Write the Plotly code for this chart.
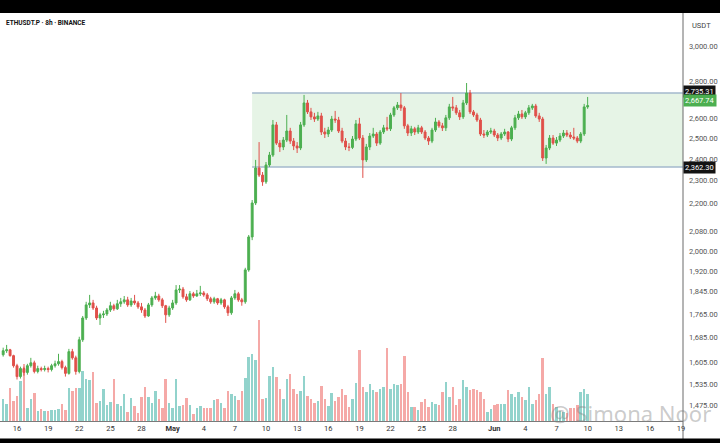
import math
import pandas as pd
import plotly.graph_objects as go

# ---------------- data ----------------
first_candle = "2025-04-14 16:00"   # 8h candles
open0 = 1629

close = [1642, 1645, 1626, 1594, 1560, 1585, 1573, 1594, 1603, 1576,
         1585, 1582, 1585, 1582, 1594, 1600, 1607, 1588, 1570, 1639,
         1619, 1576, 1678, 1752, 1798, 1805, 1787, 1752, 1763, 1766,
         1780, 1795, 1784, 1802, 1809, 1816, 1798, 1812, 1805, 1791,
         1780, 1759, 1798, 1823, 1830, 1816, 1795, 1763, 1787, 1805,
         1852, 1855, 1827, 1816, 1838, 1830, 1838, 1841, 1834, 1820,
         1809, 1820, 1805, 1816, 1791, 1770, 1823, 1838, 1816, 1809,
         1927, 2057, 2200, 2358, 2325, 2294, 2372, 2419, 2568, 2477,
         2458, 2492, 2537, 2487, 2463, 2453, 2568, 2682, 2635, 2609,
         2598, 2614, 2532, 2522, 2542, 2598, 2593, 2537, 2487, 2458,
         2456, 2497, 2573, 2502, 2396, 2458, 2512, 2522, 2477, 2532,
         2553, 2548, 2619, 2656, 2671, 2656, 2563, 2527, 2548, 2532,
         2553, 2532, 2502, 2487, 2542, 2583, 2563, 2553, 2604, 2661,
         2656, 2630, 2609, 2682, 2735, 2635, 2619, 2593, 2522, 2517,
         2532, 2537, 2517, 2502, 2522, 2532, 2497, 2553, 2604, 2624,
         2609, 2630, 2656, 2666, 2614, 2598, 2405, 2453, 2502, 2477,
         2492, 2512, 2527, 2517, 2507, 2502, 2487, 2522, 2661, 2667.74]

high = [1652, 1661, 1648, 1629, 1600, 1591, 1591, 1600, 1619, 1610,
        1594, 1591, 1594, 1591, 1600, 1610, 1632, 1613, 1594, 1648,
        1648, 1626, 1688, 1759, 1809, 1834, 1816, 1795, 1770, 1777,
        1787, 1809, 1802, 1816, 1823, 1830, 1827, 1823, 1834, 1812,
        1805, 1787, 1805, 1830, 1845, 1838, 1823, 1798, 1795, 1816,
        1870, 1870, 1863, 1838, 1848, 1845, 1852, 1867, 1848, 1841,
        1827, 1827, 1823, 1823, 1820, 1798, 1830, 1852, 1845, 1823,
        1935, 2065, 2213, 2396, 2482, 2339, 2386, 2434, 2593, 2583,
        2492, 2507, 2619, 2553, 2502, 2482, 2583, 2725, 2698, 2656,
        2630, 2635, 2630, 2553, 2558, 2614, 2640, 2609, 2553, 2502,
        2477, 2512, 2593, 2604, 2517, 2473, 2527, 2553, 2532, 2542,
        2568, 2609, 2630, 2666, 2687, 2735, 2666, 2573, 2563, 2558,
        2568, 2563, 2542, 2512, 2553, 2604, 2593, 2578, 2619, 2677,
        2714, 2671, 2645, 2698, 2790, 2752, 2645, 2630, 2604, 2542,
        2542, 2553, 2548, 2527, 2532, 2548, 2537, 2563, 2619, 2640,
        2645, 2640, 2671, 2677, 2677, 2630, 2609, 2468, 2517, 2517,
        2507, 2527, 2542, 2542, 2532, 2553, 2512, 2532, 2677, 2714]

low = [1623, 1635, 1623, 1588, 1551, 1554, 1563, 1566, 1588, 1570,
       1570, 1576, 1576, 1573, 1576, 1588, 1594, 1582, 1560, 1566,
       1613, 1566, 1570, 1671, 1745, 1787, 1780, 1745, 1728, 1752,
       1759, 1773, 1777, 1780, 1791, 1802, 1791, 1791, 1798, 1784,
       1770, 1752, 1756, 1791, 1816, 1809, 1787, 1735, 1756, 1780,
       1798, 1841, 1820, 1809, 1812, 1823, 1827, 1830, 1827, 1812,
       1802, 1802, 1798, 1798, 1784, 1759, 1763, 1816, 1809, 1795,
       1802, 1920, 2044, 2191, 2316, 2276, 2285, 2363, 2410, 2468,
       2434, 2443, 2482, 2473, 2443, 2429, 2443, 2558, 2624, 2593,
       2583, 2588, 2517, 2502, 2507, 2532, 2578, 2527, 2477, 2443,
       2438, 2448, 2487, 2492, 2312, 2386, 2443, 2502, 2463, 2468,
       2522, 2537, 2537, 2609, 2645, 2640, 2548, 2512, 2512, 2517,
       2522, 2522, 2492, 2468, 2477, 2532, 2553, 2537, 2537, 2593,
       2640, 2619, 2593, 2598, 2671, 2624, 2609, 2583, 2512, 2502,
       2507, 2522, 2507, 2487, 2492, 2512, 2482, 2487, 2542, 2593,
       2598, 2598, 2619, 2645, 2604, 2583, 2391, 2377, 2443, 2468,
       2463, 2482, 2502, 2507, 2497, 2492, 2477, 2477, 2512, 2651]

volume_k = [22, 17, 33, 20, 25, 40, 57, 13, 22, 28,
            10, 12, 10, 10, 11, 11, 12, 17, 11, 33,
            30, 33, 33, 50, 42, 41, 49, 18, 20, 32,
            16, 19, 42, 17, 15, 27, 9, 23, 15, 8,
            24, 34, 24, 18, 30, 22, 13, 42, 18, 13,
            42, 15, 16, 23, 16, 7, 13, 15, 13, 13,
            13, 21, 22, 18, 13, 30, 27, 25, 21, 30,
            43, 64, 67, 61, 101, 22, 23, 45, 54, 44,
            32, 22, 42, 47, 32, 27, 30, 45, 25, 22,
            18, 20, 35, 22, 15, 28, 20, 24, 32, 26,
            14, 22, 38, 71, 34, 29, 37, 31, 29, 32,
            34, 73, 32, 37, 36, 37, 65, 29, 14, 14,
            11, 19, 22, 14, 19, 17, 16, 29, 39, 24,
            34, 16, 22, 41, 34, 31, 32, 31, 29, 22,
            9, 12, 16, 17, 17, 17, 31, 27, 24, 29,
            24, 21, 34, 17, 21, 27, 63, 27, 34, 17,
            14, 10, 9, 8, 13, 13, 16, 29, 32, 27]

date_ticks = ["2025-04-16", "2025-04-19", "2025-04-22", "2025-04-25", "2025-04-28",
              "2025-05-01", "2025-05-04", "2025-05-07", "2025-05-10", "2025-05-13",
              "2025-05-16", "2025-05-19", "2025-05-22", "2025-05-25", "2025-05-28",
              "2025-06-01", "2025-06-04", "2025-06-07", "2025-06-10", "2025-06-13",
              "2025-06-16", "2025-06-19"]
date_labels = ["16", "19", "22", "25", "28", "<b>May</b>", "4", "7", "10", "13",
               "16", "19", "22", "25", "28", "<b>Jun</b>", "4", "7", "10", "13",
               "16", "19"]

price_ticks = [3000, 2800, 2600, 2500, 2400, 2300, 2200, 2080, 2000, 1920,
               1845, 1765, 1685, 1605, 1535, 1475]

range_low = 2362.30
range_high = 2735.31
last_price = 2667.74
range_start = "2025-05-08 15:50"

# ---------------- derived ----------------
times = pd.date_range(first_candle, periods=len(close), freq="8h")
opens = [open0] + close[:-1]
high = [max(h, o, c) for h, o, c in zip(high, opens, close)]
low = [min(l, o, c) for l, o, c in zip(low, opens, close)]

UP = "#4caf50"
DOWN = "#e0504a"
VOL_UP = "#92d3cc"
VOL_DOWN = "#f5a9a7"
vol_colors = [VOL_UP if c >= o else VOL_DOWN for o, c in zip(opens, close)]

PLOT_H = 443 - 13 - 22
Y_LO, Y_HI = math.log10(1428.7), math.log10(3204.9)


def py(px):
    """pixel row -> paper y"""
    return (421 - px) / PLOT_H


def price_paper(v):
    """price -> paper y on the log price scale"""
    return (math.log10(v) - Y_LO) / (Y_HI - Y_LO)


fig = go.Figure()

fig.add_trace(go.Bar(
    x=times, y=volume_k, marker=dict(color=vol_colors, line=dict(width=0)),
    width=8 * 3600 * 1000 * 0.72, yaxis="y", hoverinfo="skip", showlegend=False,
))

fig.add_trace(go.Candlestick(
    x=times, open=opens, high=high, low=low, close=close, yaxis="y2",
    increasing=dict(line=dict(color=UP, width=1), fillcolor=UP),
    decreasing=dict(line=dict(color=DOWN, width=1), fillcolor=DOWN),
    whiskerwidth=0, hoverinfo="skip", showlegend=False,
))

shapes = [
    # consolidation range box
    dict(type="rect", xref="x", yref="paper", x0=range_start, x1="2025-06-19 04:36",
         y0=price_paper(range_low), y1=price_paper(range_high),
         fillcolor="rgba(76,175,80,0.14)", line=dict(width=0), layer="below"),
    dict(type="line", xref="x", yref="paper", x0=range_start, x1="2025-06-19 04:36",
         y0=price_paper(range_high), y1=price_paper(range_high),
         line=dict(color="#a3b9cd", width=1.5), layer="below"),
    dict(type="line", xref="x", yref="paper", x0=range_start, x1="2025-06-19 04:36",
         y0=price_paper(range_low), y1=price_paper(range_low),
         line=dict(color="#a3b9cd", width=1.5), layer="below"),
    # price-scale separator
    dict(type="line", xref="paper", yref="paper", x0=1, x1=1, y0=py(440), y1=1,
         line=dict(color="#6b6b6b", width=1)),
    # black photo bands
    dict(type="rect", xref="paper", yref="paper", x0=-0.01, x1=1.1, y0=1, y1=py(-3),
         fillcolor="black", line=dict(width=0)),
    dict(type="rect", xref="paper", yref="paper", x0=-0.01, x1=1.1, y0=py(438.5), y1=py(446),
         fillcolor="black", line=dict(width=0)),
]

annotations = [
    dict(text="<b>ETHUSDT.P · 8h · BINANCE</b>", xref="paper", yref="paper",
         x=4 / 683, y=py(23), xanchor="left", yanchor="middle", showarrow=False,
         font=dict(family="Roboto", size=6.5, color="#111")),
    dict(text="USDT", xref="paper", yref="paper", x=690 / 683, y=py(25),
         xanchor="left", yanchor="middle", showarrow=False,
         font=dict(family="Roboto", size=7.5, color="#444")),
    dict(text=f"{range_high:,.2f}", xref="paper", yref="paper", x=1,
         y=price_paper(range_high), yshift=2, xanchor="left", yanchor="middle",
         showarrow=False, bgcolor="#131313", borderpad=1,
         font=dict(family="Roboto", size=7.5, color="white")),
    dict(text=f"{last_price:,.2f}", xref="paper", yref="paper", x=1,
         y=price_paper(last_price), yshift=5, xanchor="left", yanchor="middle",
         showarrow=False, bgcolor=UP, borderpad=1,
         font=dict(family="Roboto", size=7.5, color="white")),
    dict(text=f"{range_low:,.2f}", xref="paper", yref="paper", x=1,
         y=price_paper(range_low), xanchor="left", yanchor="middle",
         showarrow=False, bgcolor="#131313", borderpad=1,
         font=dict(family="Roboto", size=7.5, color="white")),
    dict(text="@ Simona Noor", xref="paper", yref="paper", x=630 / 683, y=py(413),
         xanchor="center", yanchor="middle", showarrow=False,
         font=dict(family="Noto Sans", size=22, color="rgba(130,130,130,0.42)")),
]

fig.update_layout(
    width=720, height=443,
    margin=dict(l=0, r=37, t=13, b=22, autoexpand=False),
    paper_bgcolor="white", plot_bgcolor="rgba(0,0,0,0)",
    showlegend=False, bargap=0, boxgap=0.45, boxgroupgap=0,
    hovermode=False,
    xaxis=dict(type="date", range=["2025-04-14 08:40", "2025-06-19 04:36"],
               rangeslider=dict(visible=False), showgrid=False, zeroline=False,
               tickmode="array", tickvals=date_ticks, ticktext=date_labels,
               ticks="", showline=True, linecolor="#7a7a7a", linewidth=1,
               tickfont=dict(family="Roboto", size=7.5, color="#333"),
               automargin=False, fixedrange=True),
    yaxis=dict(range=[0, PLOT_H], visible=False, fixedrange=True),
    yaxis2=dict(type="log", overlaying="y", side="right", anchor="x",
                range=[Y_LO, Y_HI],
                tickmode="array", tickvals=price_ticks,
                ticktext=[f"{v:,.2f}" for v in price_ticks],
                ticks="", showgrid=False, zeroline=False, showline=False,
                tickfont=dict(family="Roboto", size=7.5, color="#555"),
                ticklabelstandoff=5, automargin=False, fixedrange=True),
    shapes=shapes, annotations=annotations,
)

fig.write_html("out.html", config={"displayModeBar": False},
               post_script="document.body.style.margin='0';")
